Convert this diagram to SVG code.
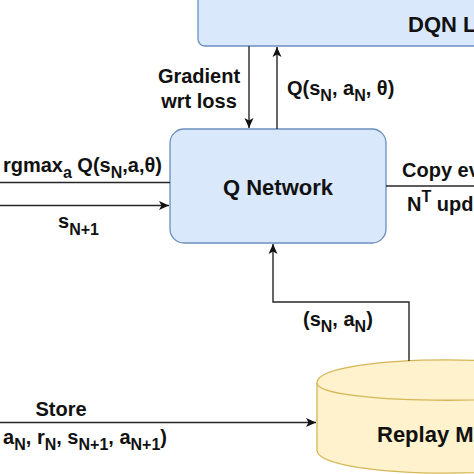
<svg xmlns="http://www.w3.org/2000/svg" width="474" height="474" viewBox="0 0 474 474">
<style>
text{font-family:"Liberation Sans",Arial,sans-serif;font-weight:bold;fill:#111}
.lbl{font-size:20px}
.node{font-size:22px}
.sub{font-size:16px}
.ln{fill:none;stroke:#262626;stroke-width:1.4}
.blue{fill:#dae8fc;stroke:#6c8ebf;stroke-width:1.3}
.yel{fill:#fff2cc;stroke:#d6b656;stroke-width:1.3}
</style>
<defs>
<marker id="arr" viewBox="0 0 10 10" refX="10" refY="5" markerWidth="10" markerHeight="10" markerUnits="userSpaceOnUse" orient="auto">
<path d="M0,0.5 L10,5 L0,9.5 L2.5,5 z" fill="#111"/>
</marker>
</defs>
<rect width="474" height="474" fill="#fff"/>

<g id="dqn-loss">
<rect class="blue" x="198" y="-20" width="320" height="66" rx="7"/>
<text class="node" x="408" y="32" font-size="21">DQN L</text>
</g>

<g id="q-network">
<rect class="blue" x="170" y="129" width="216" height="114" rx="14"/>
<text class="node" x="278" y="195" text-anchor="middle">Q Network</text>
</g>

<g id="replay-memory">
<path class="yel" d="M317,383 C317,352.3 577,352.3 577,383 L577,450 C577,480.7 317,480.7 317,450 Z"/>
<path class="yel" fill="none" d="M317,383 C317,406 577,406 577,383"/>
<text class="node" x="377" y="442">Replay M</text>
</g>

<g id="connectors">
<line class="ln" x1="249" y1="46" x2="249" y2="128" marker-end="url(#arr)"/>
<line class="ln" x1="277" y1="129" x2="277" y2="47" marker-end="url(#arr)"/>
<line class="ln" x1="0" y1="182.5" x2="170" y2="182.5"/>
<line class="ln" x1="0" y1="205.5" x2="169" y2="205.5" marker-end="url(#arr)"/>
<line class="ln" x1="386" y1="186" x2="474" y2="186"/>
<polyline class="ln" points="409,361 409,302 273,302 273,244" marker-end="url(#arr)"/>
<line class="ln" x1="0" y1="422.5" x2="316" y2="422.5" marker-end="url(#arr)"/>
</g>

<g id="labels">
<text class="lbl" x="199" y="83" text-anchor="middle">Gradient</text>
<text class="lbl" x="199" y="108" text-anchor="middle">wrt loss</text>
<text class="lbl" x="287" y="95">Q(s<tspan class="sub" dy="6">N</tspan><tspan dy="-6">, a</tspan><tspan class="sub" dy="6">N</tspan><tspan dy="-6">, θ)</tspan></text>
<text class="lbl" x="162" y="172" text-anchor="end">rgmax<tspan class="sub" dy="6">a</tspan><tspan dy="-6"> Q(s</tspan><tspan class="sub" dy="6">N</tspan><tspan dy="-6">,a,θ)</tspan></text>
<text class="lbl" x="58" y="228">s<tspan class="sub" dy="7">N+1</tspan></text>
<text class="lbl" x="402" y="177">Copy ev</text>
<text class="lbl" x="407" y="211">N<tspan class="sub" dy="-9">T</tspan><tspan dy="9"> upd</tspan></text>
<text class="lbl" x="303" y="326">(s<tspan class="sub" dy="6">N</tspan><tspan dy="-6">, a</tspan><tspan class="sub" dy="6">N</tspan><tspan dy="-6">)</tspan></text>
<text class="lbl" x="61" y="416" text-anchor="middle">Store</text>
<text class="lbl" x="167" y="444" text-anchor="end">a<tspan class="sub" dy="6">N</tspan><tspan dy="-6">, r</tspan><tspan class="sub" dy="6">N</tspan><tspan dy="-6">, s</tspan><tspan class="sub" dy="6">N+1</tspan><tspan dy="-6">, a</tspan><tspan class="sub" dy="6">N+1</tspan><tspan dy="-6">)</tspan></text>
</g>
</svg>
